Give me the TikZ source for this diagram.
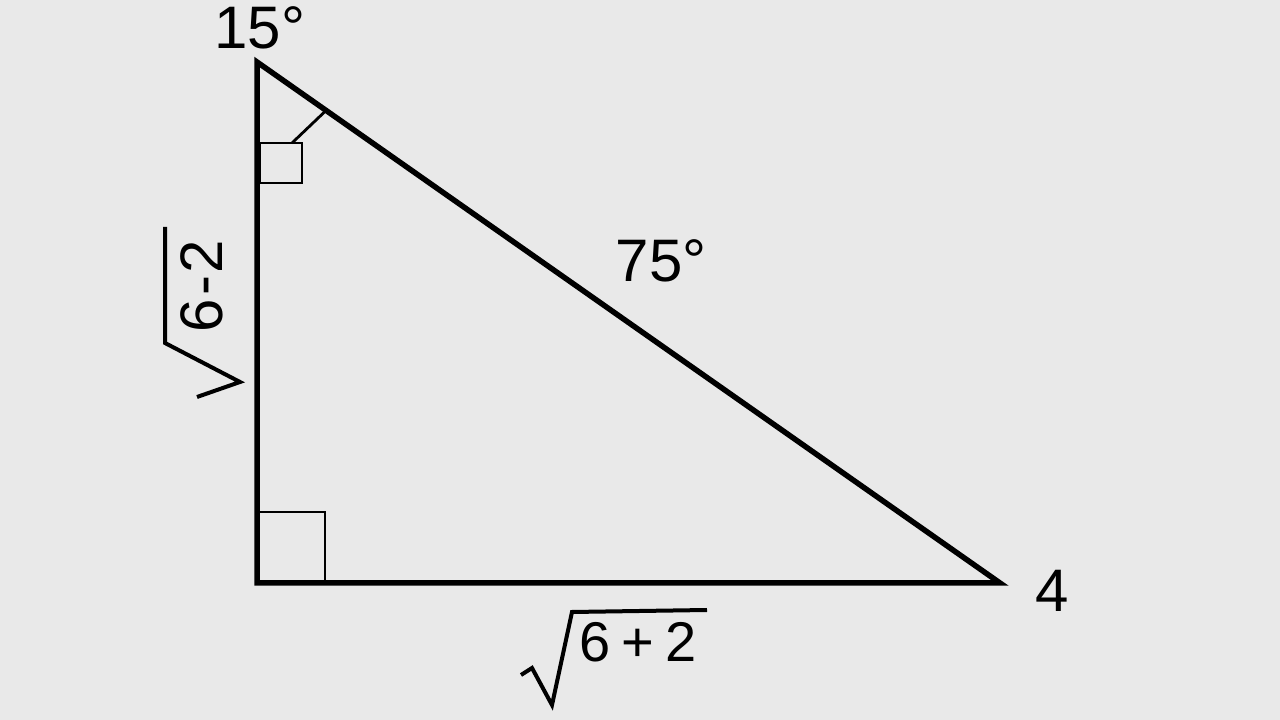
\documentclass[tikz,border=0pt]{standalone}
\usepackage{fontspec}
\setmainfont{Liberation Sans}
\usetikzlibrary{calc}
\definecolor{bg}{HTML}{E9E9E9}
\begin{document}
\begin{tikzpicture}[x=1pt,y=1pt,
  side/.style={line width=5.5pt,line join=miter},
  anglemark/.style={line width=2.8pt},
  rad/.style={line width=4pt,line join=miter},
  lbl/.style={font=\fontsize{60}{60}\selectfont,inner sep=0pt,anchor=base},
  lbls/.style={font=\fontsize{56}{56}\selectfont,inner sep=0pt,anchor=base}]
\fill[bg] (0,0) rectangle (1280,720);
\useasboundingbox (0,0) rectangle (1280,720);
\coordinate (A) at (257,658);
\coordinate (B) at (257,137);
\coordinate (C) at (1000,137);
% right-angle marks
\draw[anglemark] (B) rectangle (325,208);
\draw[anglemark] (260,537) rectangle (302,577);
\coordinate (H) at ($(A)!0.093!(C)$);
\draw[anglemark] (292,577) -- (H);
% triangle
\draw[side] (A) -- (B) -- (C) -- cycle;
% labels
\node[lbl] (t15) at (260,671) {15°};
\node[lbl] (t75) at (661,438) {75°};
\node[lbl] (t4) at (1052,108) {4};
\node[lbls] (tb) at (638,58) {6\kern11pt+\kern11pt2};
\draw[rad] (521,45) -- (532,52) -- (552,15) -- (572,108) -- (707,110);
\node[lbl,rotate=90] (tl) at (222,434) {6\kern3pt-\kern3pt2};
\draw[rad] (165,493) -- (165,377) -- (240,338) -- (197,323);
\end{tikzpicture}
\end{document}
